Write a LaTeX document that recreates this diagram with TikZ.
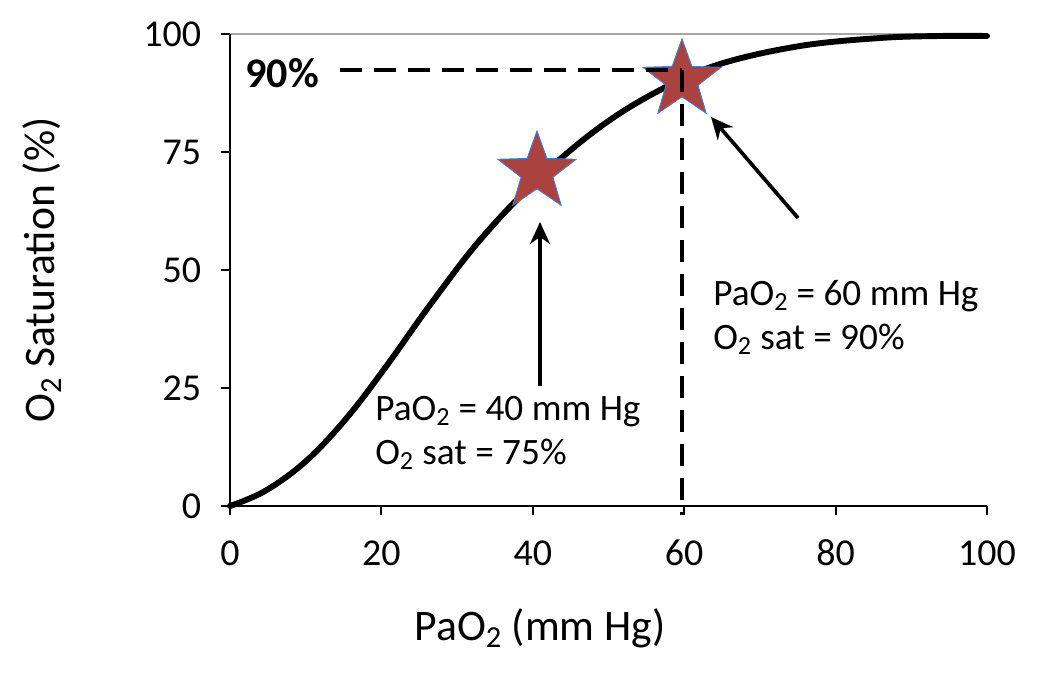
\documentclass[tikz,border=0pt]{standalone}
\usepackage{fontspec}
\setmainfont{Carlito}
\usetikzlibrary{shapes.geometric,arrows.meta}
\definecolor{starred}{RGB}{170,66,64}
\definecolor{starblue}{RGB}{80,120,190}
\begin{document}
\begin{tikzpicture}[x=0.025cm,y=-0.025cm,
  tick/.style={font=\fontsize{27}{30}\selectfont},
  ann/.style={font=\fontsize{26.5}{31}\selectfont,align=left,inner sep=0},
  ttl/.style={font=\fontsize{31}{34}\selectfont},
  axis/.style={line width=1.4pt},
  dashline/.style={line width=2.8pt,dash pattern=on 0.55cm off 0.3cm},
  arr/.style={line width=2.6pt,-{Stealth[length=0.55cm,width=0.5cm]}},
  starnode/.style={star,star points=5,star point ratio=2.45,minimum size=2.05cm,inner sep=0,fill=starred,draw=starblue,line width=0.7pt}]
\useasboundingbox (0,0) rectangle (1037,677);
\draw[gray!70,line width=1pt] (230,34) -- (987,34);
\draw[axis] (230,34) -- (230,506) -- (987,506);
\foreach \v/\yy in {0/506,25/388,50/270,75/152,100/34}{
  \draw[axis] (221,\yy) -- (230,\yy);
  \node[tick,anchor=east] (yl\v) at (206,\yy) {\v};}
\foreach \v in {0,20,40,60,80,100}{
  \draw[axis] ({230+7.57*\v},506) -- ({230+7.57*\v},515);
  \node[tick] (xl\v) at ({230+7.57*\v},553) {\v};}
\draw[line width=4.2pt,line join=round,line cap=round] plot[smooth,tension=0.6] coordinates {
  (230,506) (265,491) (305,462) (345,420) (385,368) (430,305) (480,240)
  (537,180) (600,127) (660,90) (720,64) (800,46) (880,38) (940,36) (987,36)};
\coordinate (hs) at (340,70);
\coordinate (vb) at (682,515);
\node[starnode] (s1) at (537,172) {};
\node[starnode] (s2) at (682,80) {};
\draw[dashline] (hs) -- (682,70);
\draw[dashline] (682,70) -- (vb);
\node[font=\bfseries\fontsize{30}{34}\selectfont,anchor=east] (p90) at (324,73) {90\%};
\coordinate (a1s) at (540,386);
\coordinate (a2s) at (798,218);
\draw[arr] (a1s) -- (540,222);
\draw[arr] (a2s) -- (711,117);
\node[ann,anchor=north west] (t1) at (375,396) {PaO\textsubscript{2} = 40 mm Hg\\O\textsubscript{2} sat = 75\%};
\node[ann,anchor=north west] (t2) at (713,280) {PaO\textsubscript{2} = 60 mm Hg\\O\textsubscript{2} sat = 90\%};
\node[ttl] (xt) at (540,628) {PaO\textsubscript{2} (mm Hg)};
\node[ttl,rotate=90] (yt) at (42,270) {O\textsubscript{2} Saturation (\%)};
\end{tikzpicture}
\end{document}
